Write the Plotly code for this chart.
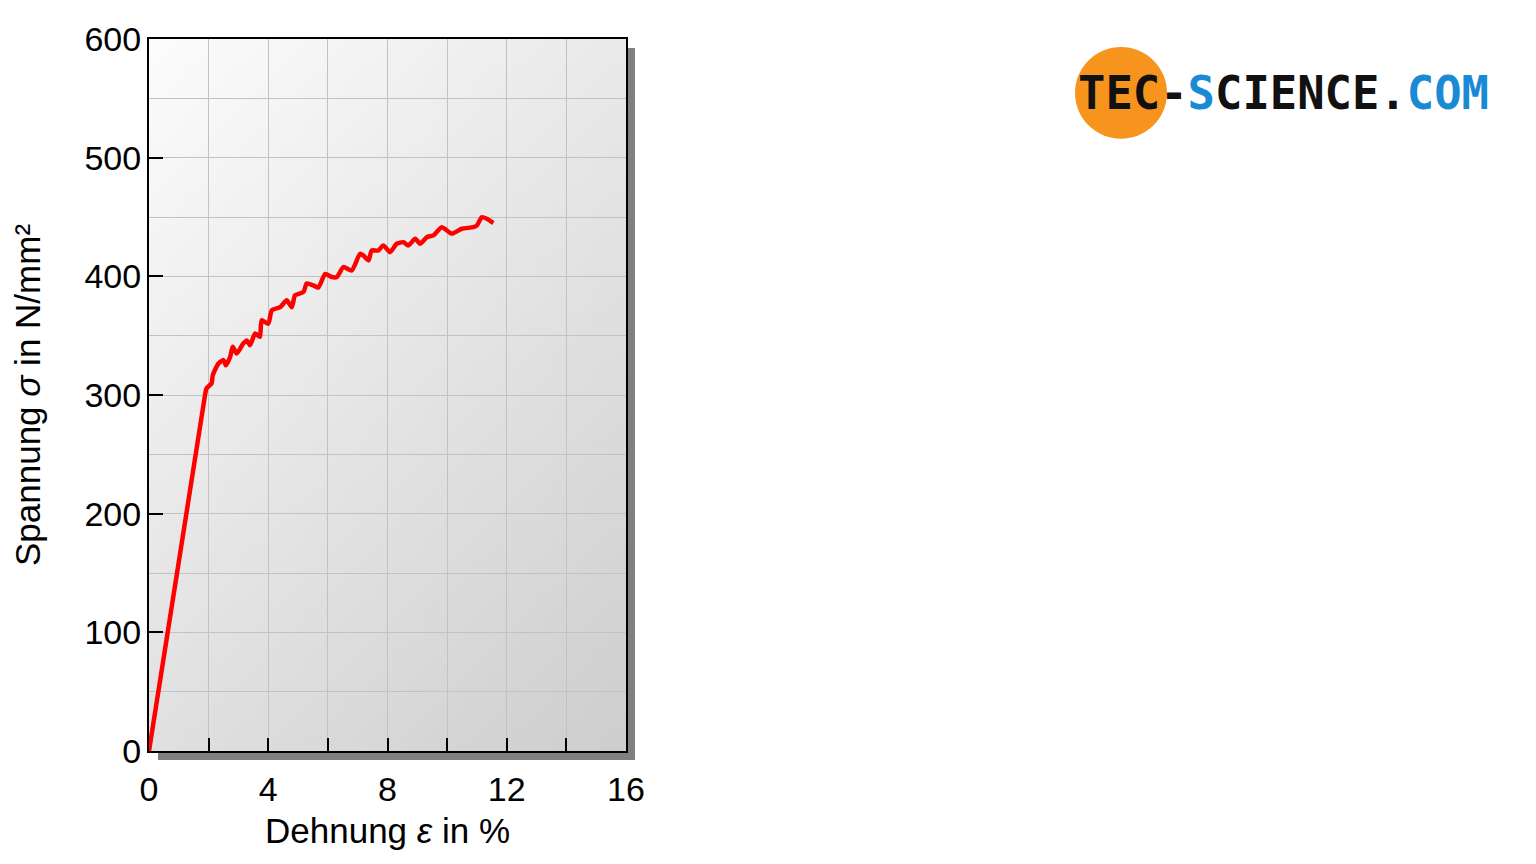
import base64, struct, zlib
import plotly.graph_objects as go

# ---------------- data ----------------
strain = [0, 1.88, 1.93, 2.10, 2.14, 2.33, 2.50, 2.58, 2.72, 2.81,
          2.94, 3.16, 3.28, 3.39, 3.56, 3.72, 3.78, 4.00, 4.12, 4.40,
          4.62, 4.79, 4.90, 5.18, 5.29, 5.51, 5.68, 5.91, 6.13, 6.30,
          6.52, 6.80, 7.08, 7.19, 7.36, 7.47, 7.69, 7.86, 8.09, 8.31,
          8.53, 8.70, 8.93, 9.09, 9.32, 9.54, 9.82, 10.16, 10.49, 10.88,
          11.00, 11.16, 11.33, 11.55]
stress = [0, 300, 305.6, 309.8, 316.8, 326.6, 329.4, 325, 332, 340.6,
          335, 343.4, 346, 342, 351.8, 349, 363, 360, 371.4, 374,
          379.8, 374, 384, 386.8, 393.9, 392.4, 390.5, 402, 399.4, 399.4,
          407.8, 405, 419, 417.6, 413.4, 421.8, 421.8, 426, 420.4, 427.5,
          428.8, 426, 431.7, 427.5, 433, 434.5, 441.4, 436, 440.1, 441.4,
          442.9, 449.8, 448.5, 444.8]
x_ticks = [0, 4, 8, 12, 16]
y_ticks = [0, 100, 200, 300, 400, 500, 600]

FONT = "Liberation Sans, Arial, sans-serif"

# ---------------- background gradient image ----------------
def make_png(w, h, top, bottom):
    rows = []
    for j in range(h):
        row = bytearray([0])
        for i in range(w):
            u = (i / (w - 1) * 477 + j / (h - 1) * 714) / (477 + 714)
            v = int(round(top + (bottom - top) * u))
            row += bytes([v, v, v])
        rows.append(bytes(row))
    raw = b"".join(rows)
    def chunk(t, d):
        c = struct.pack(">I", len(d)) + t + d
        return c + struct.pack(">I", zlib.crc32(t + d) & 0xffffffff)
    png = b"\x89PNG\r\n\x1a\n"
    png += chunk(b"IHDR", struct.pack(">IIBBBBB", w, h, 8, 2, 0, 0, 0))
    png += chunk(b"IDAT", zlib.compress(raw, 9))
    png += chunk(b"IEND", b"")
    return "data:image/png;base64," + base64.b64encode(png).decode()

bg_src = make_png(48, 72, 252, 206)

# ---------------- figure ----------------
fig = go.Figure()
fig.add_trace(go.Scatter(
    x=strain, y=stress, mode="lines",
    line=dict(color="#ff0000", width=4.5, shape="spline", smoothing=0.6),
    hoverinfo="skip", showlegend=False,
))

W, H = 477, 714
def px_x(p):
    return (p - 149) / W
def px_y(p):
    return (752 - p) / H

shapes = [
    # shadow strips
    dict(type="rect", xref="paper", yref="paper", layer="below",
         x0=px_x(627), x1=px_x(635), y0=px_y(761), y1=px_y(47),
         fillcolor="#808080", line=dict(width=0)),
    dict(type="rect", xref="paper", yref="paper", layer="below",
         x0=px_x(158), x1=px_x(635), y0=px_y(761), y1=px_y(753),
         fillcolor="#808080", line=dict(width=0)),
    # logo circle
    dict(type="circle", xref="paper", yref="paper", layer="below",
         x0=px_x(1075), x1=px_x(1167), y0=px_y(138), y1=px_y(46),
         fillcolor="#f7941d", line=dict(width=0)),
]

blue = "#1a8ad4"
logo_text = ("<b>TEC-<span style='color:%s'>S</span>CIENCE."
             "<span style='color:%s'>COM</span></b>") % (blue, blue)

# page body has an 8px default margin
FIG_W, FIG_H = 1520, 848
L, T = 149 - 8, 38 - 8

fig.update_layout(
    width=FIG_W, height=FIG_H,
    margin=dict(l=L, r=FIG_W - L - W, t=T, b=FIG_H - T - H, pad=0),
    paper_bgcolor="white", plot_bgcolor="white",
    font=dict(family=FONT, color="black"),
    shapes=shapes,
    images=[dict(source=bg_src, xref="paper", yref="paper", x=0, y=1,
                 sizex=1, sizey=1, xanchor="left", yanchor="top",
                 sizing="stretch", layer="below")],
    annotations=[dict(text=logo_text, xref="paper", yref="paper",
                      x=px_x(1076), y=px_y(93), xanchor="left", yanchor="middle",
                      showarrow=False,
                      font=dict(family="DejaVu Sans Mono", size=45.5, color="#111111"))],
    showlegend=False,
)

fig.update_xaxes(
    range=[0, 16], tickvals=x_ticks, ticktext=[str(v) for v in x_ticks],
    ticks="inside", ticklen=13, tickwidth=2, tickcolor="black",
    showline=True, linewidth=2, linecolor="black", mirror=True,
    showgrid=True, gridcolor="#c2c2c2", gridwidth=1, zeroline=False,
    minor=dict(dtick=2, tick0=0, ticks="inside", ticklen=13, tickwidth=2,
               tickcolor="black", showgrid=True, gridcolor="#c2c2c2", gridwidth=1),
    tickfont=dict(size=34, family=FONT),
    ticklabelstandoff=7,
    title=dict(text="Dehnung <i>ε</i> in %", font=dict(size=35, family=FONT), standoff=12),
)
fig.update_yaxes(
    range=[0, 600], tickvals=y_ticks, ticktext=[str(v) for v in y_ticks],
    ticks="inside", ticklen=14, tickwidth=2, tickcolor="black",
    showline=True, linewidth=2, linecolor="black", mirror=True,
    showgrid=True, gridcolor="#c2c2c2", gridwidth=1, zeroline=False,
    minor=dict(dtick=50, tick0=0, ticks="", showgrid=True, gridcolor="#c2c2c2", gridwidth=1),
    tickfont=dict(size=34, family=FONT),
    ticklabelstandoff=-1,
    title=dict(text="Spannung <i>σ</i> in N/mm²", font=dict(size=35, family=FONT), standoff=35),
)

fig.write_html("out.html")
